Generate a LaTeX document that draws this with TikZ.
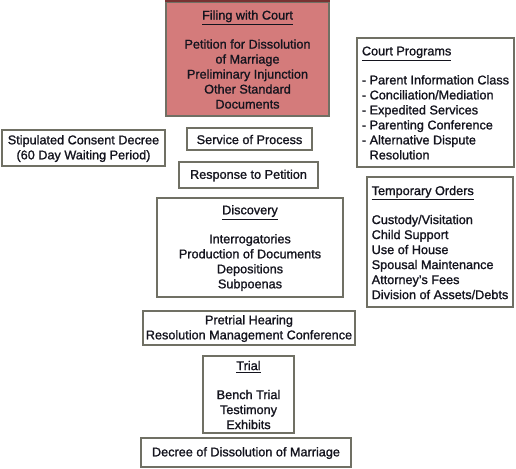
\documentclass[tikz,border=0pt]{standalone}
\usepackage{fontspec}
\setmainfont{Liberation Sans}[FakeBold=1.2]
\definecolor{bordergray}{RGB}{112,112,100}
\definecolor{filingred}{RGB}{212,123,123}
\definecolor{darkred}{RGB}{120,50,50}
\definecolor{txt}{RGB}{20,20,30}
\tikzset{
  box/.style 2 args={draw=bordergray, line width=1.5pt, fill=white, inner sep=0pt,
    minimum width=#1*0.75pt, minimum height=#2*0.75pt},
  label text/.style={inner sep=0pt, align=center, text=txt, yshift=-0.4pt,
    font=\fontsize{9.5}{11.25}\selectfont},
  left text/.style={label text, align=left}
}
\begin{document}
\begin{tikzpicture}[x=0.75pt, y=-0.75pt]
\useasboundingbox (0,0) rectangle (516,468);
% boxes
\node[box={163}{114}, fill=filingred] (filing) at (247.5,59) {};
\draw[darkred, line width=1.5pt] (filing.north west) -- (filing.north east);
\node[box={163}{36}] (stip) at (83.5,148) {};
\node[box={125}{22}] (service) at (249.5,139) {};
\node[box={139}{26}] (response) at (248.5,175) {};
\node[box={157}{129}] (court) at (435.5,102.5) {};
\node[box={146}{130}] (temp) at (440,242) {};
\node[box={186}{99}] (discovery) at (250,247.5) {};
\node[box={212}{34}] (pretrial) at (249,328) {};
\node[box={91}{77}] (trial) at (248.5,394.5) {};
\node[box={210}{29}] (decree) at (246,452.5) {};
% texts
\node[label text] (filingt) at (filing.center)
  {\underline{Filing with Court}\\[10.5pt]
   Petition for Dissolution\\ of Marriage\\ Preliminary Injunction\\ Other Standard\\ Documents};
\node[label text] (stipt) at (stip.center)
  {Stipulated Consent Decree\\ (60 Day Waiting Period)};
\node[label text] (servicet) at (service.center) {Service of Process};
\node[label text] (responset) at (response.center) {Response to Petition};
\node[left text] (courtt) at (court.center)
  {\underline{Court Programs}\\[10.5pt]
   - Parent Information Class\\ - Conciliation/Mediation\\ - Expedited Services\\
   - Parenting Conference\\ - Alternative Dispute\\ \phantom{- }Resolution};
\node[left text] (tempt) at (temp.center)
  {\underline{Temporary Orders}\\[10.5pt]
   Custody/Visitation\\ Child Support\\ Use of House\\ Spousal Maintenance\\
   Attorney's Fees\\ Division of Assets/Debts};
\node[label text] (discoveryt) at (discovery.center)
  {\underline{Discovery}\\[10.5pt]
   Interrogatories\\ Production of Documents\\ Depositions\\ Subpoenas};
\node[label text] (pretrialt) at (pretrial.center)
  {Pretrial Hearing\\ Resolution Management Conference};
\node[label text] (trialt) at (trial.center)
  {\underline{Trial}\\[10.5pt] Bench Trial\\ Testimony\\ Exhibits};
\node[label text] (decreet) at (decree.center) {Decree of Dissolution of Marriage};
\end{tikzpicture}
\end{document}
